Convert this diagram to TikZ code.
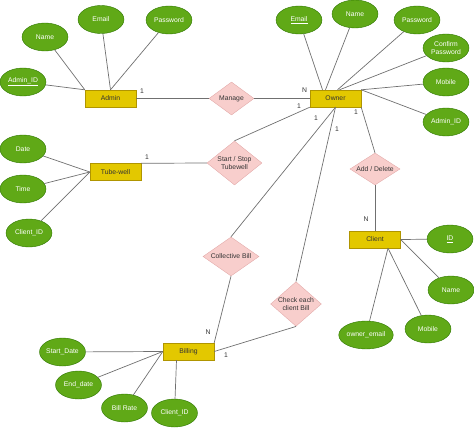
\documentclass[tikz,border=0pt]{standalone}
\usepackage{fontspec}
\setmainfont{Liberation Sans}
\usepackage{tikz}
\usetikzlibrary{shapes.geometric}

\definecolor{attrfill}{HTML}{60A917}
\definecolor{attrline}{HTML}{2D7600}
\definecolor{entfill}{HTML}{E3C800}
\definecolor{entline}{HTML}{B09500}
\definecolor{relfill}{HTML}{F8CECC}
\definecolor{relline}{HTML}{E3ABAA}
\definecolor{linkgray}{HTML}{707070}
\definecolor{txtdark}{HTML}{333333}

\begin{document}
\begin{tikzpicture}[x=1pt, y=-1pt, font=\fontsize{6.8}{8}\selectfont,
    entity/.style = {draw=entline, fill=entfill, text=txtdark, minimum width=51pt, minimum height=17pt, inner sep=0pt},
    attr/.style = {ellipse, draw=attrline, fill=attrfill, text=white, minimum width=46pt, minimum height=28pt, inner sep=0pt, align=center},
    rel/.style = {diamond, draw=relline, fill=relfill, text=txtdark, inner sep=0pt, align=center},
    card/.style = {text=txtdark, inner sep=0pt},
    link/.style = {draw=linkgray, line width=0.7pt}]
            \useasboundingbox (0,0) rectangle (474,428);

            % admin side
            \node[entity] (Admin) at (110.5,98.5) {Admin};
            \node[attr] (AdmName) at (45,37) {Name};
            \node[attr] (AdmEmail) at (101,19.5) {Email};
            \node[attr] (AdmPass) at (169,20) {Password};
            \node[attr] (AdmID) at (23,82) {\underline{Admin\_ID}};

            \node[rel, minimum width=45pt, minimum height=33pt, shape aspect=1.36] (Manage) at (231.5,98.5) {Manage};

            % owner side
            \node[entity] (Owner) at (335.5,98.5) {Owner};
            \node[attr] (OwnEmail) at (299,20) {\underline{Email}};
            \node[attr] (OwnName) at (355,14) {Name};
            \node[attr] (OwnPass) at (417,20) {Password};
            \node[attr] (OwnConf) at (446,48) {Confirm\\Password};
            \node[attr] (OwnMobile) at (446,82) {Mobile};
            \node[attr] (OwnAdmID) at (446,122) {Admin\_ID};

            % tube-well
            \node[entity] (Tubewell) at (115.5,172) {Tube-well};
            \node[attr] (TwDate) at (23,149) {Date};
            \node[attr] (TwTime) at (23,189) {Time};
            \node[attr] (TwClient) at (29,233) {Client\_ID};

            \node[rel, minimum width=55pt, minimum height=44pt, shape aspect=1.25] (StartStop) at (234.5,163) {Start / Stop\\Tubewell};
            \node[rel, minimum width=50pt, minimum height=32pt, shape aspect=1.56] (AddDel) at (375,169) {Add / Delete};

            % client
            \node[entity] (Client) at (375,239.5) {Client};
            \node[attr] (ClID) at (450,239) {\underline{ID}};
            \node[attr] (ClName) at (451,290) {Name};
            \node[attr] (ClMobile) at (428,329) {Mobile};
            \node[attr] (ClEmail) at (366,335) {owner\_email};

            % billing
            \node[rel, minimum width=56pt, minimum height=39pt, shape aspect=1.44] (Collective) at (231,256.5) {Collective Bill};
            \node[rel, minimum width=50pt, minimum height=44pt, shape aspect=1.14] (Check) at (296,304) {Check each\\client Bill};
            \node[entity] (Billing) at (188.5,351.5) {Billing};
            \node[attr] (BlStart) at (62.5,352) {Start\_Date};
            \node[attr] (BlEnd) at (78.5,385) {End\_date};
            \node[attr] (BlRate) at (124.5,408) {Bill Rate};
            \node[attr] (BlClient) at (174.5,413) {Client\_ID};

            \path[link] (AdmName) edge (Admin.north west)
                (AdmEmail) edge (Admin.north)
                (AdmPass) edge (Admin.north)
                (AdmID) edge (Admin.north west)
                (Admin) edge (Manage)
                (Manage) edge (Owner);

            \path[link] (OwnEmail) edge ([xshift=-13pt]Owner.north)
                (OwnName) edge ([xshift=-10pt]Owner.north)
                (OwnPass) edge ([xshift=2pt]Owner.north)
                (OwnConf) edge ([xshift=4pt]Owner.north)
                (OwnMobile) edge (Owner.north east)
                (OwnAdmID) edge (Owner.north east);

            \path[link] (Owner.south west) edge (StartStop.north)
                (Owner.south) edge (Collective.north)
                (Owner.south) edge (Check.north)
                (Owner.south east) edge (AddDel.north)
                (AddDel.south) edge (Client.north);

            \path[link] (TwDate) edge (Tubewell.west)
                (TwTime) edge (Tubewell.west)
                (TwClient) edge (Tubewell.west)
                (Tubewell.north east) edge (StartStop.west);

            \path[link] (ClID) edge (Client.east)
                (ClName) edge (Client.east)
                (ClMobile) edge ([xshift=13pt]Client.south)
                (ClEmail) edge ([xshift=13pt]Client.south);

            \path[link] (Collective.south) edge (Billing.north east)
                (Check.south) edge (Billing.east)
                (BlStart) edge (Billing.west)
                (BlEnd) edge (Billing.west)
                (BlRate) edge (Billing.west)
                (BlClient) edge ([xshift=-12pt]Billing.south);

            % cardinalities
            \node[card] (c1) at (142,91) {1};
            \node[card] (c2) at (304.5,90) {N};
            \node[card] (c3) at (147,157) {1};
            \node[card] (c4) at (299,106.5) {1};
            \node[card] (c5) at (316,118) {1};
            \node[card] (c6) at (337,129.5) {1};
            \node[card] (c7) at (356,112.5) {1};
            \node[card] (c8) at (366,219) {N};
            \node[card] (c9) at (208,332) {N};
            \node[card] (c10) at (226,355) {1};
        \end{tikzpicture}
\end{document}
